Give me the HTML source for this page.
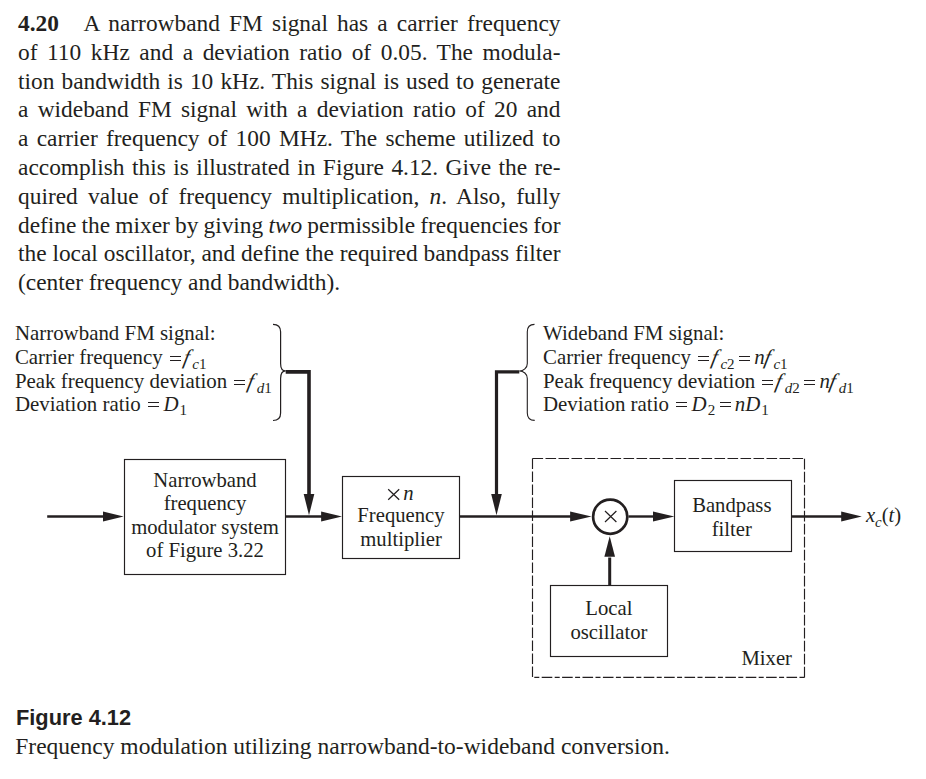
<!DOCTYPE html>
<html><head><meta charset="utf-8">
<style>
html,body{margin:0;padding:0;background:#fff;}
body{width:926px;height:779px;position:relative;overflow:hidden;color:#231f20;font-family:"Liberation Serif",serif;}
.l{position:absolute;white-space:nowrap;}
.j{text-align:justify;text-align-last:justify;}
.c{text-align:center;}
svg{position:absolute;left:0;top:0;}
.sub{font-size:72%;position:relative;}
.eq{display:inline-block;width:11px;height:2.75px;border-top:1.15px solid #231f20;border-bottom:1.15px solid #231f20;vertical-align:3.3px;margin-left:1.5px;margin-right:3px;}
.eqs{margin-left:4.5px;margin-right:4px;}
.mf{display:inline-block;transform:skewX(-12deg);margin-left:0px;margin-right:3px;}
.md{margin-right:1px;}
.md1{margin-left:2px;}
</style></head><body>
<svg width="926" height="779" viewBox="0 0 926 779"><rect x="124.5" y="459.5" width="161.00" height="115.00" fill="none" stroke="#231f20" stroke-width="1.15"/><rect x="342.5" y="476.5" width="117.00" height="82.00" fill="none" stroke="#231f20" stroke-width="1.15"/><rect x="674.5" y="480.5" width="117.00" height="71.00" fill="none" stroke="#231f20" stroke-width="1.15"/><rect x="550.5" y="585.5" width="117.00" height="71.00" fill="none" stroke="#231f20" stroke-width="1.15"/><path d="M532.5,458.5 H804.5" stroke="#231f20" stroke-width="1.15" stroke-dasharray="10.6 2.4" fill="none"/><path d="M532.5,458.5 V677.4" stroke="#231f20" stroke-width="1.15" stroke-dasharray="10.6 2.4" fill="none"/><path d="M804.5,677.4 H532.5" stroke="#231f20" stroke-width="1.15" stroke-dasharray="5 2.4 10.6 2.4" fill="none"/><path d="M804.5,677.4 V458.5" stroke="#231f20" stroke-width="1.15" stroke-dasharray="10.6 2.4" fill="none"/><line x1="47.2" y1="516.5" x2="104" y2="516.5" stroke="#231f20" stroke-width="2.4"/><path d="M103.0,511.4 L123.6,516.5 L103.0,521.6 Z" fill="#231f20"/><line x1="285.5" y1="516.5" x2="322" y2="516.5" stroke="#231f20" stroke-width="2.4"/><path d="M321.1,511.4 L342.0,516.5 L321.1,521.6 Z" fill="#231f20"/><line x1="459.5" y1="516.5" x2="571" y2="516.5" stroke="#231f20" stroke-width="2.4"/><path d="M570.1,511.4 L591.5,516.5 L570.1,521.6 Z" fill="#231f20"/><line x1="628.5" y1="516.5" x2="654" y2="516.5" stroke="#231f20" stroke-width="2.4"/><path d="M653.0,511.4 L674.3,516.5 L653.0,521.6 Z" fill="#231f20"/><line x1="791.5" y1="516.5" x2="842" y2="516.5" stroke="#231f20" stroke-width="2.4"/><path d="M841.2,511.4 L861.8,516.5 L841.2,521.6 Z" fill="#231f20"/><circle cx="610.2" cy="516.7" r="17.1" fill="none" stroke="#231f20" stroke-width="2.7"/><path d="M605.0,511.0 L616.4,522.0 M616.4,511.0 L605.0,522.0" stroke="#231f20" stroke-width="1.2"/><path d="M388.2,489.3 L399.2,499.7 M399.2,489.3 L388.2,499.7" stroke="#231f20" stroke-width="1.25"/><line x1="609.7" y1="585.0" x2="609.7" y2="557.5" stroke="#231f20" stroke-width="3.0"/><path d="M604.4000000000001,556.7 L609.7,536.2 L615.0,556.7 Z" fill="#231f20"/><path d="M285.7,371.9 H309 V495" fill="none" stroke="#231f20" stroke-width="3.6"/><path d="M303.7,494.1 L309.0,515.2 L314.3,494.1 Z" fill="#231f20"/><path d="M519.3,371.9 H496.5 V495" fill="none" stroke="#231f20" stroke-width="3.2"/><path d="M491.2,494.1 L496.5,515.2 L501.8,494.1 Z" fill="#231f20"/><path d="M273,324.3 C277.5,324.3 280.6,327 280.6,331.8 V363.4 C280.6,368 282.6,370.9 285.7,370.9 C282.6,370.9 280.6,373.8 280.6,378.5 V413 C280.6,417.8 277.5,420.5 273,420.5" fill="none" stroke="#231f20" stroke-width="1.2"/><path d="M534.5,324.4 C530,324.4 527.3,327 527.3,331.8 V363.4 C527.3,368 523.5,371 519.3,371 C523.5,371 527.3,373.8 527.3,378.5 V413 C527.3,417.8 530,420.4 534.7,420.4" fill="none" stroke="#231f20" stroke-width="1.1"/></svg>
<div class="l j" style="left:18.0px;top:12.20px;font-size:23.4px;line-height:23.4px;width:542.5px;"><b style="margin-right:-1.5px">4.20</b>&nbsp;&nbsp; A narrowband FM signal has a carrier frequency</div>
<div class="l j" style="left:18.0px;top:40.96px;font-size:23.4px;line-height:23.4px;width:542.5px;">of 110 kHz and a deviation ratio of 0.05. The modula-</div>
<div class="l j" style="left:18.0px;top:69.72px;font-size:23.4px;line-height:23.4px;width:542.5px;">tion bandwidth is 10 kHz. This signal is used to generate</div>
<div class="l j" style="left:18.0px;top:98.48px;font-size:23.4px;line-height:23.4px;width:542.5px;">a wideband FM signal with a deviation ratio of 20 and</div>
<div class="l j" style="left:18.0px;top:127.24px;font-size:23.4px;line-height:23.4px;width:542.5px;">a carrier frequency of 100 MHz. The scheme utilized to</div>
<div class="l j" style="left:18.0px;top:156.00px;font-size:23.4px;line-height:23.4px;width:542.5px;">accomplish this is illustrated in Figure 4.12. Give the re-</div>
<div class="l j" style="left:18.0px;top:184.76px;font-size:23.4px;line-height:23.4px;width:542.5px;">quired value of frequency multiplication, <i>n</i>. Also, fully</div>
<div class="l j" style="left:18.0px;top:213.52px;font-size:23.4px;line-height:23.4px;width:542.5px;word-spacing:-1.2px;">define the mixer by giving <i>two</i> permissible frequencies for</div>
<div class="l j" style="left:18.0px;top:242.28px;font-size:23.4px;line-height:23.4px;width:542.5px;word-spacing:-0.6px;">the local oscillator, and define the required bandpass filter</div>
<div class="l" style="left:18.0px;top:271.04px;font-size:23.4px;line-height:23.4px;">(center frequency and bandwidth).</div>
<div class="l" style="left:14.90px;top:322.90px;font-size:20.9px;line-height:20.9px;">Narrowband FM signal:</div>
<div class="l" style="left:14.90px;top:347.00px;font-size:20.9px;line-height:20.9px;">Carrier frequency <span class="eq"></span><i class="mf">f</i><span class="sub" style="top:0.3em"><i>c</i>1</span></div>
<div class="l" style="left:14.90px;top:371.00px;font-size:20.9px;line-height:20.9px;">Peak frequency deviation <span class="eq"></span><i class="mf">f</i><span class="sub" style="top:0.3em"><i>d</i>1</span></div>
<div class="l" style="left:14.90px;top:393.50px;font-size:20.9px;line-height:20.9px;">Deviation ratio <span class="eq"></span><i class="md md1">D</i><span class="sub" style="top:0.3em">1</span></div>
<div class="l" style="left:543.00px;top:322.90px;font-size:20.9px;line-height:20.9px;">Wideband FM signal:</div>
<div class="l" style="left:543.00px;top:347.00px;font-size:20.9px;line-height:20.9px;">Carrier frequency <span class="eq"></span><i class="mf">f</i><span class="sub" style="top:0.3em"><i>c</i>2</span><span class="eq eqs"></span><i>n</i><i class="mf">f</i><span class="sub" style="top:0.3em"><i>c</i>1</span></div>
<div class="l" style="left:543.00px;top:371.00px;font-size:20.9px;line-height:20.9px;">Peak frequency deviation <span class="eq"></span><i class="mf">f</i><span class="sub" style="top:0.3em"><i>d</i>2</span><span class="eq eqs"></span><i>n</i><i class="mf">f</i><span class="sub" style="top:0.3em"><i>d</i>1</span></div>
<div class="l" style="left:543.00px;top:393.50px;font-size:20.9px;line-height:20.9px;">Deviation ratio <span class="eq"></span><i class="md md1">D</i><span class="sub" style="top:0.3em">2</span><span class="eq eqs"></span><i>n</i><i class="md">D</i><span class="sub" style="top:0.3em">1</span></div>
<div class="l c" style="left:55.00px;width:300px;top:469.96px;font-size:20.7px;line-height:20.7px;">Narrowband</div>
<div class="l c" style="left:55.00px;width:300px;top:493.16px;font-size:20.7px;line-height:20.7px;">frequency</div>
<div class="l c" style="left:55.00px;width:300px;top:516.76px;font-size:20.7px;line-height:20.7px;">modulator system</div>
<div class="l c" style="left:55.00px;width:300px;top:540.46px;font-size:20.7px;line-height:20.7px;">of Figure 3.22</div>
<div class="l" style="left:403.20px;top:483.36px;font-size:20.7px;line-height:20.7px;"><i>n</i></div>
<div class="l c" style="left:251.00px;width:300px;top:505.46px;font-size:20.7px;line-height:20.7px;">Frequency</div>
<div class="l c" style="left:251.00px;width:300px;top:528.66px;font-size:20.7px;line-height:20.7px;">multiplier</div>
<div class="l c" style="left:581.80px;width:300px;top:495.26px;font-size:20.7px;line-height:20.7px;">Bandpass</div>
<div class="l c" style="left:581.80px;width:300px;top:519.26px;font-size:20.7px;line-height:20.7px;">filter</div>
<div class="l c" style="left:458.90px;width:300px;top:598.16px;font-size:20.7px;line-height:20.7px;">Local</div>
<div class="l c" style="left:458.90px;width:300px;top:621.76px;font-size:20.7px;line-height:20.7px;">oscillator</div>
<div class="l" style="right:134.00px;top:647.76px;font-size:20.7px;line-height:20.7px;text-align:right;">Mixer</div>
<div class="l" style="left:865.90px;top:505.36px;font-size:20.7px;line-height:20.7px;"><i>x</i><span class="sub" style="top:0.3em"><i>c</i></span>(<i>t</i>)</div>
<div class="l" style="left:16.0px;top:707.34px;font-family:'Liberation Sans',sans-serif;font-weight:bold;font-size:21.8px;line-height:21.8px;">Figure 4.12</div>
<div class="l" style="left:15.30px;top:735.12px;font-size:23.5px;line-height:23.5px;">Frequency modulation utilizing narrowband-to-wideband conversion.</div>
</body></html>
